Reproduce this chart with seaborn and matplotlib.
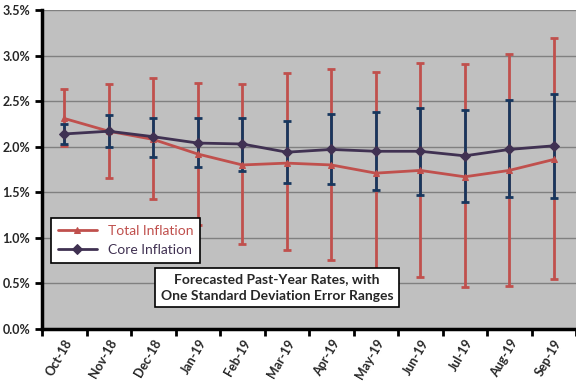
import pandas as pd
import matplotlib.pyplot as plt
import seaborn as sns
from matplotlib.ticker import FixedLocator, PercentFormatter

# Du lieu doc tu bieu do goc (%)
thang = ['Oct-18', 'Nov-18', 'Dec-18', 'Jan-19', 'Feb-19', 'Mar-19',
         'Apr-19', 'May-19', 'Jun-19', 'Jul-19', 'Aug-19', 'Sep-19']
total = [2.31, 2.17, 2.08, 1.92, 1.80, 1.82, 1.80, 1.71, 1.74, 1.67, 1.74, 1.86]
total_hi = [2.63, 2.69, 2.75, 2.70, 2.69, 2.81, 2.85, 2.82, 2.92, 2.91, 3.02, 3.19]
total_lo = [2.01, 1.66, 1.43, 1.14, 0.93, 0.87, 0.76, 0.60, 0.57, 0.46, 0.47, 0.55]
core = [2.14, 2.17, 2.11, 2.04, 2.03, 1.94, 1.97, 1.95, 1.95, 1.90, 1.97, 2.01]
core_hi = [2.25, 2.35, 2.32, 2.31, 2.32, 2.28, 2.36, 2.38, 2.43, 2.40, 2.51, 2.58]
core_lo = [2.03, 2.00, 1.89, 1.78, 1.73, 1.60, 1.59, 1.52, 1.47, 1.39, 1.45, 1.44]

df = pd.DataFrame({'thang': thang, 'x': range(len(thang)),
                   'Total Inflation': total, 'Core Inflation': core})

red = '#C0504D'
purple = '#403152'
navy = '#17375E'

sns.set_style('ticks')
plt.rcParams['font.family'] = ['Lato', 'DejaVu Sans']

fig = plt.figure(figsize=(5.76, 3.85), dpi=100)
ax = fig.add_axes([42 / 576, 1 - 329 / 385, 534 / 576, 319 / 385])
ax.set_facecolor('#C0C0C0')

# Thanh sai so
ax.errorbar(df['x'], total,
            yerr=[[t - l for t, l in zip(total, total_lo)],
                  [h - t for t, h in zip(total, total_hi)]],
            fmt='none', ecolor=red, elinewidth=2, capsize=2.6, capthick=2, zorder=3)
ax.errorbar(df['x'], core,
            yerr=[[c - l for c, l in zip(core, core_lo)],
                  [h - c for c, h in zip(core, core_hi)]],
            fmt='none', ecolor=navy, elinewidth=2, capsize=2.6, capthick=2, zorder=4)

sns.lineplot(data=df, x='x', y='Total Inflation', ax=ax, color=red, lw=2,
             marker='^', markersize=5, markeredgecolor=red, label='Total Inflation', zorder=5)
sns.lineplot(data=df, x='x', y='Core Inflation', ax=ax, color=purple, lw=2,
             marker='D', markersize=5, markeredgecolor=purple, label='Core Inflation', zorder=6)

ax.set_xlim(-0.5, len(thang) - 0.5)
ax.set_ylim(0, 3.5)
ax.set_yticks([i * 0.5 for i in range(8)])
ax.yaxis.set_major_formatter(PercentFormatter(decimals=1))
ax.yaxis.grid(True, color='#808080', lw=1)
ax.set_axisbelow(True)

# Vach chia o ranh gioi, nhan o giua (kieu Excel)
ax.xaxis.set_major_locator(FixedLocator([i - 0.5 for i in range(len(thang) + 1)]))
ax.xaxis.set_minor_locator(FixedLocator(list(range(len(thang)))))
ax.set_xticklabels([], minor=False)
ax.set_xticklabels(thang, minor=True, rotation=60, ha='right', rotation_mode='anchor',
                   fontsize=9, fontweight='bold')
ax.tick_params(axis='x', which='minor', length=0, pad=6)
ax.tick_params(axis='x', which='major', length=5, width=2, color='black')
ax.tick_params(axis='y', length=5, width=2, color='black', labelsize=9)
for lb in ax.get_yticklabels():
    lb.set_fontweight('bold')

ax.set_xlabel('')
ax.set_ylabel('')
for s in ['top', 'right']:
    ax.spines[s].set_visible(False)
for s in ['left', 'bottom']:
    ax.spines[s].set_linewidth(2.5)
    ax.spines[s].set_color('black')

leg = ax.legend(loc='upper left', bbox_to_anchor=(0.017, 0.348), borderaxespad=0,
                fancybox=False, edgecolor='black', framealpha=1, fontsize=10,
                handlelength=2.8, borderpad=0.5, labelspacing=0.5)
leg.get_frame().set_linewidth(1.2)
for txt, c in zip(leg.get_texts(), [red, purple]):
    txt.set_color(c)

ax.text(0.44, 0.13, 'Forecasted Past-Year Rates, with\nOne Standard Deviation Error Ranges',
        transform=ax.transAxes, ha='center', va='center', fontsize=10, fontweight='bold',
        linespacing=1.4,
        bbox=dict(boxstyle='square,pad=0.4', facecolor='white', edgecolor='black', lw=1.2),
        zorder=10)

fig.savefig('out.png', dpi=100)
